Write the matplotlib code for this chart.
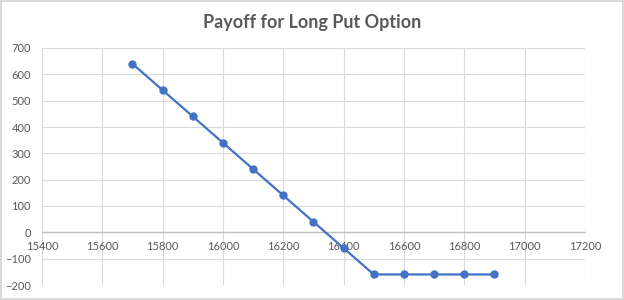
import matplotlib
matplotlib.use("Agg")
import matplotlib.pyplot as plt

# strike prices / payoff
strike = [15700, 15800, 15900, 16000, 16100, 16200, 16300,
          16400, 16500, 16600, 16700, 16800, 16900]
payoff = [640, 540, 440, 340, 240, 140, 40,
          -60, -160, -160, -160, -160, -160]

x_ticks = list(range(15400, 17201, 200))
y_ticks = list(range(-200, 701, 100))

plt.rcParams["font.family"] = ["Lato", "DejaVu Sans"]

fig = plt.figure(figsize=(6.24, 3.0), dpi=100)
fig.patch.set_edgecolor("#d9d9d9")
fig.patch.set_linewidth(1.5)

ax = fig.add_axes([0.0673, 0.05, 0.870, 0.79])

ax.plot(
    strike,
    payoff,
    color="#4472c4",
    linewidth=1.6,
    marker="o",
    markersize=5,
    zorder=3
)

ax.set_xlim(15400, 17200)
ax.set_ylim(-200, 700)
ax.set_xticks(x_ticks)
ax.set_yticks(y_ticks)

ax.grid(True, color="#d9d9d9", linewidth=0.8)
ax.set_axisbelow(True)

for side in ["top", "right", "left"]:
    ax.spines[side].set_visible(False)
ax.spines["bottom"].set_position(("data", 0))
ax.spines["bottom"].set_color("#bfbfbf")
ax.spines["bottom"].set_linewidth(1.0)

ax.tick_params(axis="both", length=0, colors="#595959", labelsize=8)
ax.tick_params(axis="x", pad=6)
ax.tick_params(axis="y", pad=8)

fig.text(
    0.5, 0.925,
    "Payoff for Long Put Option",
    ha="center",
    va="center",
    fontsize=13,
    fontweight="bold",
    color="#595959"
)

fig.savefig("out.png", dpi=100)
